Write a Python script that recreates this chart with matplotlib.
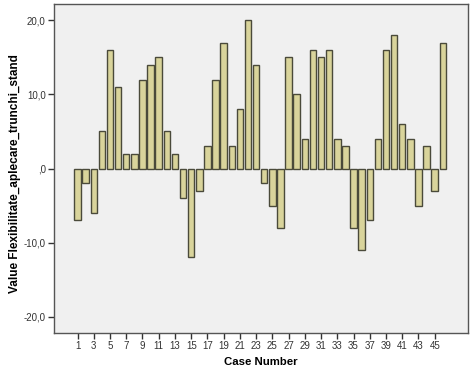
import matplotlib
matplotlib.use("Agg")
import matplotlib.pyplot as plt

plt.rcParams['font.family'] = ['Liberation Sans', 'DejaVu Sans']

cases = list(range(1, 47))
values = [-7, -2, -6, 5, 16, 11, 2, 2, 12, 14, 15, 5, 2, -4, -12, -3,
          3, 12, 17, 3, 8, 20, 14, -2, -5, -8, 15, 10, 4, 16, 15, 16,
          4, 3, -8, -11, -7, 4, 16, 18, 6, 4, -5, 3, -3, 17]
xticks = list(range(1, 46, 2))
yticks = [-20, -10, 0, 10, 20]
ytick_labels = ["-20,0", "-10,0", ",0", "10,0", "20,0"]

fig = plt.figure(figsize=(4.74, 3.79), dpi=100)
ax = fig.add_axes([54/474, 1-333/379, (468-54)/474, (333-4)/379])
ax.set_facecolor("#f0f0f0")
ax.bar(cases, values, width=0.8, color="#d9d49b", edgecolor="#4a4a3a", linewidth=1.0)
ax.set_xlim(-1.9, 49.1)
ax.set_ylim(-22.2, 22.2)
ax.set_xticks(xticks)
ax.set_xticklabels([str(t) for t in xticks], fontsize=7, color="#333333")
ax.set_yticks(yticks)
ax.set_yticklabels(ytick_labels, fontsize=7, color="#333333")
ax.tick_params(axis="both", direction="out", length=4, width=1, color="#333333", pad=2)
for s in ax.spines.values():
    s.set_color("#555555")
    s.set_linewidth(1.0)
ax.set_xlabel("Case Number", fontsize=8.2, fontweight="bold")
ax.xaxis.set_label_coords((261 - 54) / (468 - 54), -(362 - 333) / (333 - 4))
ax.set_ylabel("Value Flexibilitate_aplecare_trunchi_stand", fontsize=8.5, fontweight="bold")
ax.yaxis.set_label_coords(-(54 - 15) / (468 - 54), (333 - 173.5) / (333 - 4))
ax.xaxis.label.set_va("center")
ax.yaxis.label.set_va("center")
fig.savefig("out.png", dpi=100)
